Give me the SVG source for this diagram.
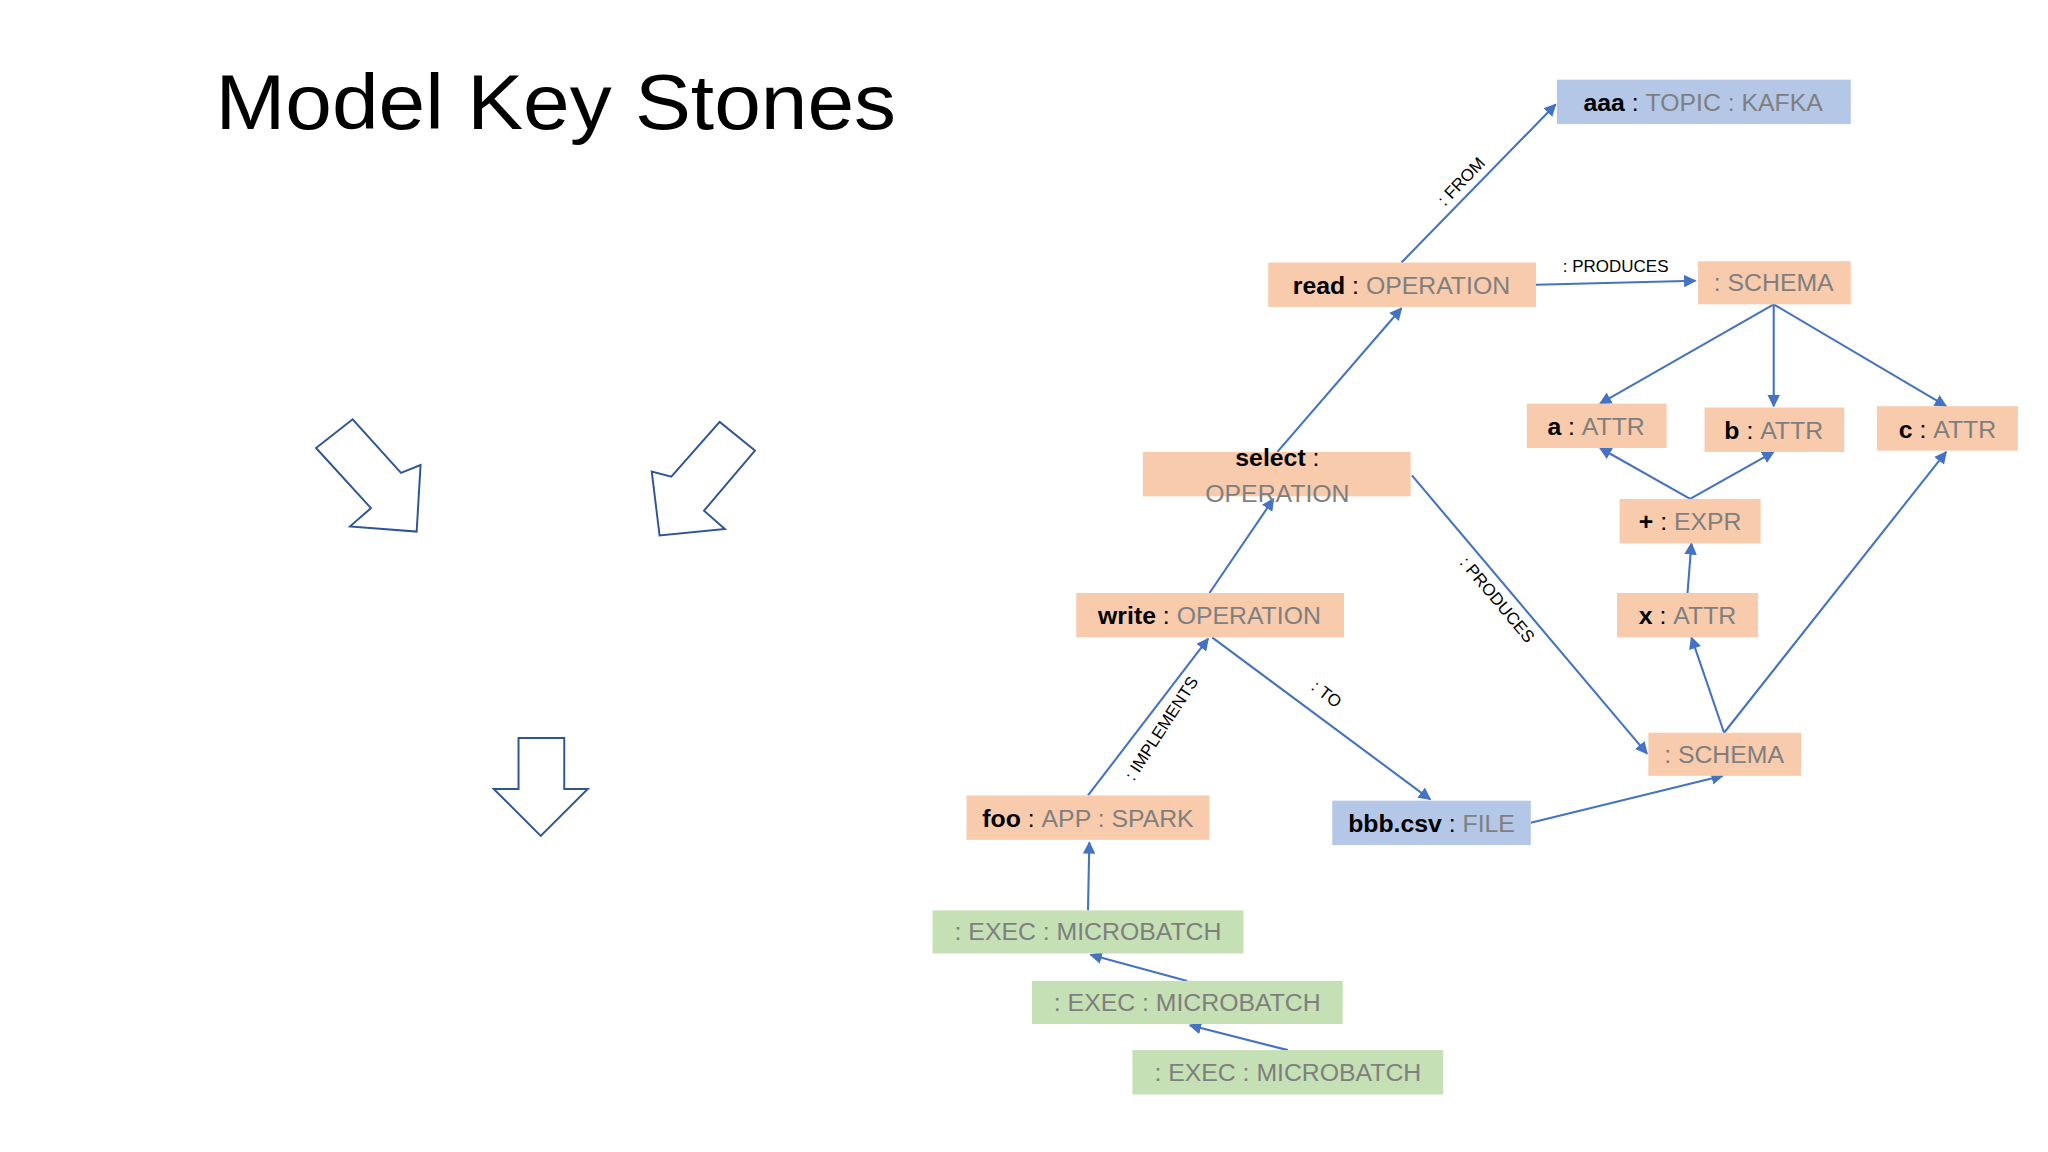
<svg xmlns="http://www.w3.org/2000/svg" width="2048" height="1152" viewBox="0 0 2048 1152">
<defs>
<style>
.o{fill:#f8cbad}.b{fill:#b4c7e7}.g{fill:#c5e0b4}
text{font-family:"Liberation Sans","Open Sans",sans-serif}
.t{font-size:19px;fill:#7f7f7f;text-anchor:middle}
.k{fill:#000;font-weight:bold}
.kn{fill:#000}
.l{font-size:13px;fill:#000;text-anchor:middle}
.c{stroke:#4472c4;stroke-width:1.6;fill:none;marker-end:url(#ah)}
.big{fill:#fff;stroke:#2f5597;stroke-width:1.5}
</style>
<marker id="ah" viewBox="0 0 10 10" refX="9" refY="5" markerWidth="6" markerHeight="6" orient="auto" markerUnits="strokeWidth"><path d="M0,0L10,5L0,10z" fill="#4472c4"/></marker>
</defs>
<rect width="2048" height="1152" fill="#fff"/>
<g transform="scale(1.30612)">
<text x="165" y="99" font-size="60" textLength="521" lengthAdjust="spacingAndGlyphs">Model Key Stones</text>
<polygon class="big" points="242,343 270,321 307,362 322,356 319,407 268,403 284,389"/>
<polygon class="big" points="578,345 551,323 514,365 499,361 505,410 555,405 539,391"/>
<polygon class="big" points="397,565 432,565 432,604 450,604 414,640 378,604 397,604"/>
<g id="connectors">
<path class="c" d="M1073,201L1191,80"/>
<path class="c" d="M1176,218L1298,215"/>
<path class="c" d="M1358,233L1225,309"/>
<path class="c" d="M1358,233L1358,311"/>
<path class="c" d="M1358,233L1490,311"/>
<path class="c" d="M1294,382L1225,343"/>
<path class="c" d="M1294,382L1358,346"/>
<path class="c" d="M1292,454L1295,416"/>
<path class="c" d="M1320,561L1295,488"/>
<path class="c" d="M1320,561L1490,346"/>
<path class="c" d="M978,346L1073,236"/>
<path class="c" d="M926,454L975,382"/>
<path class="c" d="M1081,364L1261,577"/>
<path class="c" d="M928,488L1095,612"/>
<path class="c" d="M833,609L925,489"/>
<path class="c" d="M1172,630L1319,594"/>
<path class="c" d="M833,697L834,645"/>
<path class="c" d="M909,751L835,731"/>
<path class="c" d="M986,804L911,785"/>
<text class="l" transform="translate(1122,142) rotate(-46)">: FROM</text>
<text class="l" x="1237" y="208">: PRODUCES</text>
<text class="l" transform="translate(1143,462) rotate(50)">: PRODUCES</text>
<text class="l" transform="translate(1013,535) rotate(38)">: TO</text>
<text class="l" transform="translate(893,560) rotate(-57)">: IMPLEMENTS</text>
</g>
<g id="aaa"><rect class="b" x="1192" y="61" width="225" height="34"/><text class="t" x="1304" y="85"><tspan class="k">aaa</tspan><tspan class="kn"> : </tspan>TOPIC : KAFKA</text></g>
<g id="read"><rect class="o" x="971" y="201" width="205" height="34"/><text class="t" x="1073" y="225"><tspan class="k">read</tspan><tspan class="kn"> : </tspan>OPERATION</text></g>
<g id="schema1"><rect class="o" x="1300" y="200" width="117" height="33"/><text class="t" x="1358" y="223">: SCHEMA</text></g>
<g id="a"><rect class="o" x="1169" y="309" width="107" height="34"/><text class="t" x="1222" y="333"><tspan class="k">a</tspan><tspan class="kn"> : </tspan>ATTR</text></g>
<g id="b"><rect class="o" x="1305" y="312" width="107" height="34"/><text class="t" x="1358" y="336"><tspan class="k">b</tspan><tspan class="kn"> : </tspan>ATTR</text></g>
<g id="c"><rect class="o" x="1437" y="311" width="108" height="34"/><text class="t" x="1491" y="335"><tspan class="k">c</tspan><tspan class="kn"> : </tspan>ATTR</text></g>
<g id="select"><rect class="o" x="875" y="346" width="205" height="34"/><text class="t" x="978" y="357"><tspan class="k">select</tspan><tspan class="kn"> :</tspan></text><text class="t" x="978" y="384">OPERATION</text></g>
<g id="plus"><rect class="o" x="1240" y="382" width="108" height="34"/><text class="t" x="1294" y="406"><tspan class="k">+</tspan><tspan class="kn"> : </tspan>EXPR</text></g>
<g id="write"><rect class="o" x="824" y="454" width="205" height="34"/><text class="t" x="926" y="478"><tspan class="k">write</tspan><tspan class="kn"> : </tspan>OPERATION</text></g>
<g id="x"><rect class="o" x="1238" y="454" width="108" height="34"/><text class="t" x="1292" y="478"><tspan class="k">x</tspan><tspan class="kn"> : </tspan>ATTR</text></g>
<g id="schema2"><rect class="o" x="1262" y="561" width="117" height="33"/><text class="t" x="1320" y="584">: SCHEMA</text></g>
<g id="foo"><rect class="o" x="740" y="609" width="186" height="34"/><text class="t" x="833" y="633"><tspan class="k">foo</tspan><tspan class="kn"> : </tspan>APP : SPARK</text></g>
<g id="bbb"><rect class="b" x="1020" y="613" width="152" height="34"/><text class="t" x="1096" y="637"><tspan class="k">bbb.csv</tspan><tspan class="kn"> : </tspan>FILE</text></g>
<g id="exec1"><rect class="g" x="714" y="697" width="238" height="33"/><text class="t" x="833" y="720">: EXEC : MICROBATCH</text></g>
<g id="exec2"><rect class="g" x="790" y="751" width="238" height="33"/><text class="t" x="909" y="774">: EXEC : MICROBATCH</text></g>
<g id="exec3"><rect class="g" x="867" y="804" width="238" height="34"/><text class="t" x="986" y="828">: EXEC : MICROBATCH</text></g>
</g>
</svg>
